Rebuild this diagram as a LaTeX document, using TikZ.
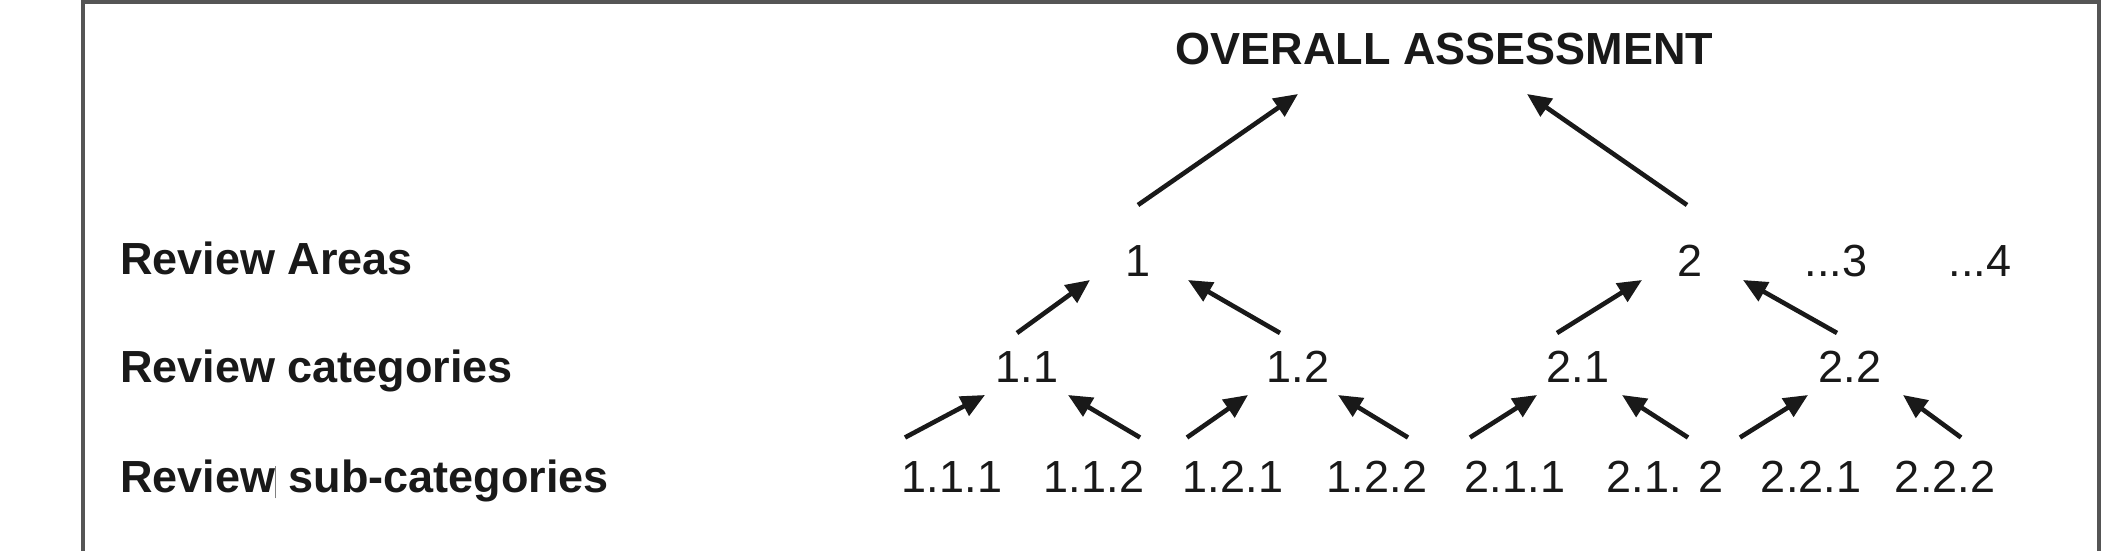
\documentclass[tikz,border=0pt]{standalone}
\usepackage{fontspec}
\setmainfont{Liberation Sans}
\usetikzlibrary{arrows.meta,calc}
\definecolor{framecol}{RGB}{85,85,85}
\definecolor{inkcol}{RGB}{25,25,25}
\begin{document}
\begin{tikzpicture}[x=1pt,y=1pt,
  every node/.style={inner sep=0pt,outer sep=0pt,text=inkcol,font=\fontsize{45}{54}\selectfont},
  lbl/.style={anchor=base west,font=\fontsize{45}{54}\selectfont\bfseries},
  num/.style={anchor=base},
  ttl/.style={anchor=base,font=\fontsize{45}{54}\selectfont\bfseries},
  arr/.style={draw=inkcol,line width=4.6pt,-{Triangle[length=24pt,width=21pt]}},
  framestyle/.style={draw=framecol,line width=4.5pt}]
\useasboundingbox (0,0) rectangle (2114,551);
\clip (0,0) rectangle (2114,551);
\fill[white] (0,0) rectangle (2114,551);
\draw[framestyle] (83,-30) -- (83,549) -- (2099,549) -- (2099,-30);

% title
\node[ttl] (top) at (1444.5,486) {OVERALL ASSESSMENT};

% row labels
\node[lbl] (lab1) at (120,276) {Review Areas};
\node[lbl] (lab2) at (120,168) {Review categories};
\node[lbl] (lab3) at (120,58) {Review\textcolor{gray}{\rule[-0.12em]{1.2pt}{0.72em}} sub-categories};

% review areas
\node[num] (n1) at (1138,274) {1};
\node[num] (n2) at (1690,274) {2};
\node[num] (n3) at (1836,274) {...3};
\node[num] (n4) at (1980,274) {...4};

% review categories
\node[num] (n11) at (1027,168) {1.1};
\node[num] (n12) at (1298,168) {1.2};
\node[num] (n21) at (1578,168) {2.1};
\node[num] (n22) at (1850,168) {2.2};

% sub-categories
\node[num] (n111) at (952,58) {1.1.1};
\node[num] (n112) at (1094,58) {1.1.2};
\node[num] (n121) at (1233,58) {1.2.1};
\node[num] (n122) at (1377,58) {1.2.2};
\node[num] (n211) at (1515,58) {2.1.1};
\node[num] (n212) at (1665,58) {2.1. 2};
\node[num] (n221) at (1811,58) {2.2.1};
\node[num] (n222) at (1945,58) {2.2.2};

% arrows: areas -> overall
\draw[arr] ($(n1.base)+(0,72)$) -- ($(top.base)+(-146.5,-29)$);
\draw[arr] ($(n2.base)+(-3,72)$) -- ($(top.base)+(82.5,-29)$);

% arrows: categories -> areas
\draw[arr] ($(n11.base)+(-10,50)$) -- ($(n1.base)+(-48,-3)$);
\draw[arr] ($(n12.base)+(-18,50)$) -- ($(n1.base)+(50,-3)$);
\draw[arr] ($(n21.base)+(-21,50)$) -- ($(n2.base)+(-48,-3)$);
\draw[arr] ($(n22.base)+(-13,50)$) -- ($(n2.base)+(53,-3)$);

% arrows: sub-categories -> categories
\draw[arr] ($(n111.base)+(-47,55.5)$) -- ($(n11.base)+(-42,-12)$);
\draw[arr] ($(n112.base)+(46,55.5)$) -- ($(n11.base)+(41,-12)$);
\draw[arr] ($(n121.base)+(-46,55.5)$) -- ($(n12.base)+(-50,-12)$);
\draw[arr] ($(n122.base)+(31,55.5)$) -- ($(n12.base)+(40,-12)$);
\draw[arr] ($(n211.base)+(-45,55.5)$) -- ($(n21.base)+(-41,-12)$);
\draw[arr] ($(n212.base)+(23,55.5)$) -- ($(n21.base)+(44,-12)$);
\draw[arr] ($(n221.base)+(-71,55.5)$) -- ($(n22.base)+(-42,-12)$);
\draw[arr] ($(n222.base)+(16,55.5)$) -- ($(n22.base)+(53,-12)$);
\end{tikzpicture}
\end{document}
